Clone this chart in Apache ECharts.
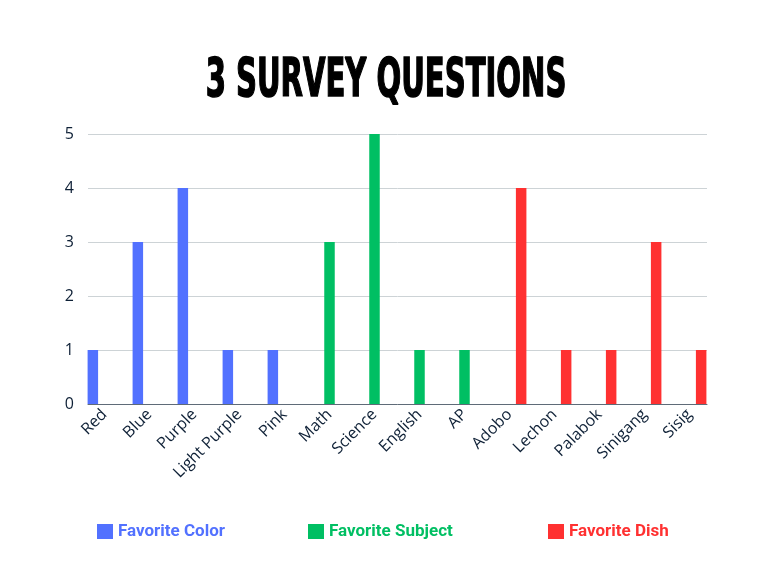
<!DOCTYPE html>
<html>
<head>
<meta charset="utf-8">
<script src="https://cdn.jsdelivr.net/npm/echarts@6/dist/echarts.min.js"></script>
<style>
  html, body { margin: 0; padding: 0; background: #fff; }
  #chart { width: 768px; height: 576px; }
</style>
</head>
<body>
<div id="chart"></div>
<script>
// categories along the x axis
var categories = ['Red', 'Blue', 'Purple', 'Light Purple', 'Pink', 'Math', 'Science', 'English', 'AP', 'Adobo', 'Lechon', 'Palabok', 'Sinigang', 'Sisig'];
// one series per question, 0 where the answer belongs to another question
var favoriteColor   = [1, 3, 4, 1, 1, 0, 0, 0, 0, 0, 0, 0, 0, 0];
var favoriteSubject = [0, 0, 0, 0, 0, 3, 5, 1, 1, 0, 0, 0, 0, 0];
var favoriteDish    = [0, 0, 0, 0, 0, 0, 0, 0, 0, 4, 1, 1, 3, 1];
var seriesNames = ['Favorite Color', 'Favorite Subject', 'Favorite Dish'];
var colors = ['#5271ff', '#00bf63', '#ff3131'];

var labelColor = '#0e2036';
var myChart = echarts.init(document.getElementById('chart'), null, { renderer: 'canvas' });

function barSeries(i, data) {
  return {
    name: seriesNames[i],
    type: 'bar',
    xAxisIndex: 0,
    yAxisIndex: 0,
    data: data,
    barWidth: 10.5,
    barGap: '11%',
    itemStyle: { color: colors[i] },
    silent: true
  };
}

function legendFor(i, left) {
  return {
    left: left,
    top: 518,
    icon: 'rect',
    itemWidth: 16,
    itemHeight: 15,
    selectedMode: false,
    data: [{ name: seriesNames[i], textStyle: { color: colors[i] } }],
    textStyle: { fontFamily: 'Roboto', fontWeight: 'bold', fontSize: 17 }
  };
}

myChart.setOption({
  animation: false,
  backgroundColor: '#ffffff',
  graphic: [{
    type: 'text',
    x: 386,
    y: 82,
    scaleX: 0.61,
    style: {
      text: '3 SURVEY QUESTIONS',
      font: 'bold 53px "Liberation Sans Narrow", "DejaVu Sans Condensed", sans-serif',
      textAlign: 'center',
      textVerticalAlign: 'middle',
      fill: '#000000',
      stroke: '#000000',
      lineWidth: 1.5
    }
  }],
  legend: [legendFor(0, 92), legendFor(1, 303), legendFor(2, 543)],
  grid: [
    // grid for the bars (category slots 45px wide)
    { left: 82, width: 630, top: 134, height: 270 },
    // grid for the value axis, split lines and baseline
    { left: 88, width: 619, top: 134, height: 270 }
  ],
  xAxis: [
    {
      type: 'category',
      gridIndex: 0,
      data: categories,
      axisLine: { show: false },
      axisTick: { show: false },
      axisLabel: {
        rotate: 45,
        interval: 0,
        margin: 8,
        color: labelColor,
        fontSize: 16,
        fontFamily: 'Open Sans'
      }
    },
    {
      type: 'category',
      gridIndex: 1,
      data: categories,
      axisLine: { show: true, lineStyle: { color: '#5f6b78', width: 1 } },
      axisTick: { show: false },
      axisLabel: { show: false }
    }
  ],
  yAxis: [
    { type: 'value', gridIndex: 0, min: 0, max: 5, show: false, splitLine: { show: false } },
    {
      type: 'value',
      gridIndex: 1,
      min: 0,
      max: 5,
      interval: 1,
      axisLine: { show: false },
      axisTick: { show: false },
      splitLine: { lineStyle: { color: '#cdd3d6', width: 1 } },
      axisLabel: { color: labelColor, fontSize: 16, margin: 14, fontFamily: 'Open Sans' }
    }
  ],
  series: [
    barSeries(0, favoriteColor),
    barSeries(1, favoriteSubject),
    barSeries(2, favoriteDish)
  ]
});
</script>
</body>
</html>
